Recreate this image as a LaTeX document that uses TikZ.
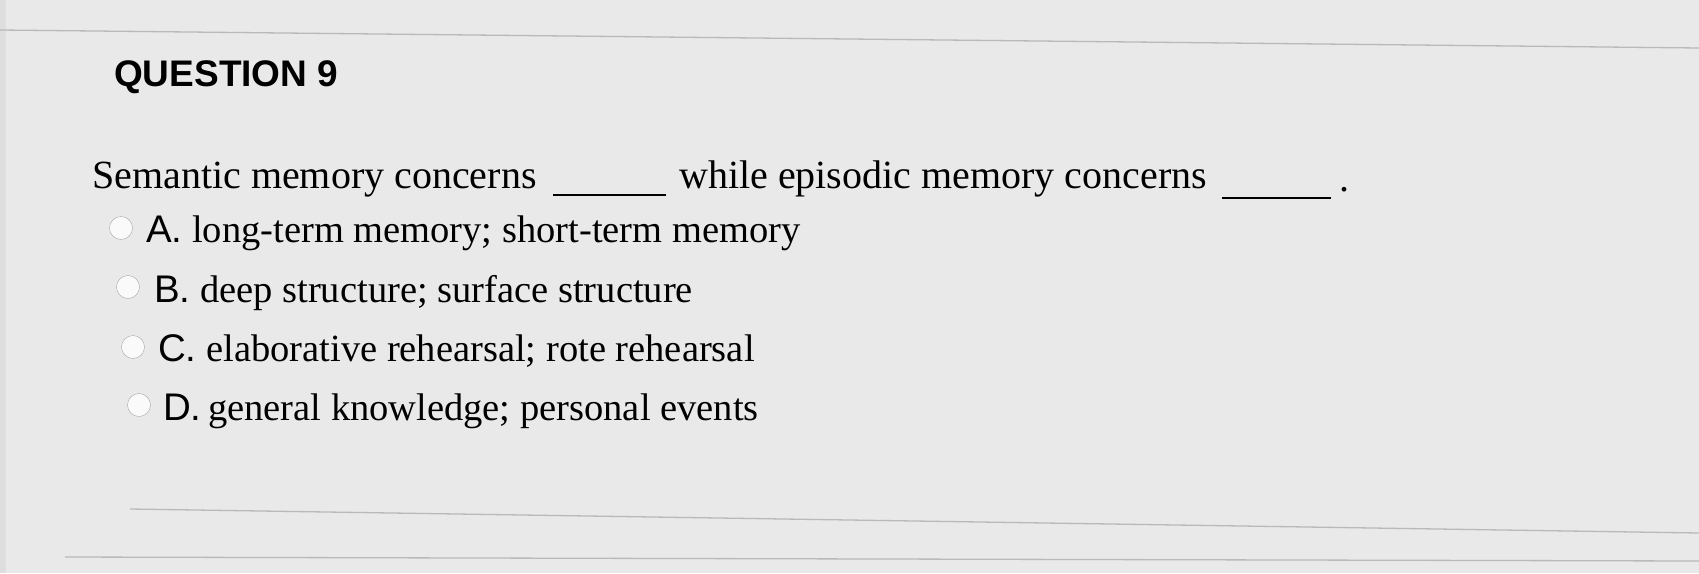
\documentclass[tikz,border=0pt]{standalone}
\usepackage{fontspec}
\setmainfont{Liberation Serif}
\newfontfamily\sansf{Liberation Sans}
\begin{document}
\begin{tikzpicture}[x=1pt,y=-1pt,
  qtxt/.style={anchor=base west,inner sep=0pt,font=\fontsize{40}{46}\selectfont},
  otxt/.style={anchor=base west,inner sep=0pt,font=\fontsize{38.5}{44}\selectfont},
  radio/.style={circle,draw=gray!70,fill=white!96!gray,minimum size=23pt,inner sep=0pt},
  rule/.style={draw=gray!55,line width=1.3pt}]
\useasboundingbox (0,0) rectangle (1699,573);
\fill[gray!17] (0,0) rectangle (1699,573);
\fill[gray!26] (0,0) rectangle (6,573);
\coordinate (t1) at (0,30); \coordinate (t2) at (1699,48);
\draw[rule] (t1) -- (t2);
\node[anchor=base west,inner sep=0pt,font=\sansf\bfseries\fontsize{37}{44}\selectfont] (title) at (114,86) {QUESTION 9};
\node[qtxt] (q1) at (92,188) {Semantic memory concerns};
\coordinate (b1a) at (553,195); \coordinate (b1b) at (666,195);
\draw[line width=1.5pt] (b1a) -- (b1b);
\node[qtxt] (q2) at (679,188) {while episodic memory concerns};
\coordinate (b2a) at (1222,198); \coordinate (b2b) at (1331,198);
\draw[line width=1.5pt] (b2a) -- (b2b);
\node[qtxt] (dot) at (1339,191) {.};
\node[radio] (ra) at (121,228) {};
\node[otxt] (oa) at (146,242) {{\sansf A.} long-term memory; short-term memory};
\node[radio] (rb) at (128,287) {};
\node[otxt] (ob) at (154,302) {{\sansf B.} deep structure; surface structure};
\node[radio] (rc) at (133,347) {};
\node[otxt] (oc) at (158,361) {{\sansf C.} elaborative rehearsal; rote rehearsal};
\node[radio] (rd) at (139,405) {};
\node[otxt] (od) at (163,420) {{\sansf D.}\,general knowledge; personal events};
\coordinate (l1) at (130,509); \coordinate (l2) at (1699,533);
\draw[rule] (l1) -- (l2);
\coordinate (l3) at (65,557); \coordinate (l4) at (1699,561);
\draw[rule] (l3) -- (l4);
\end{tikzpicture}
\end{document}
